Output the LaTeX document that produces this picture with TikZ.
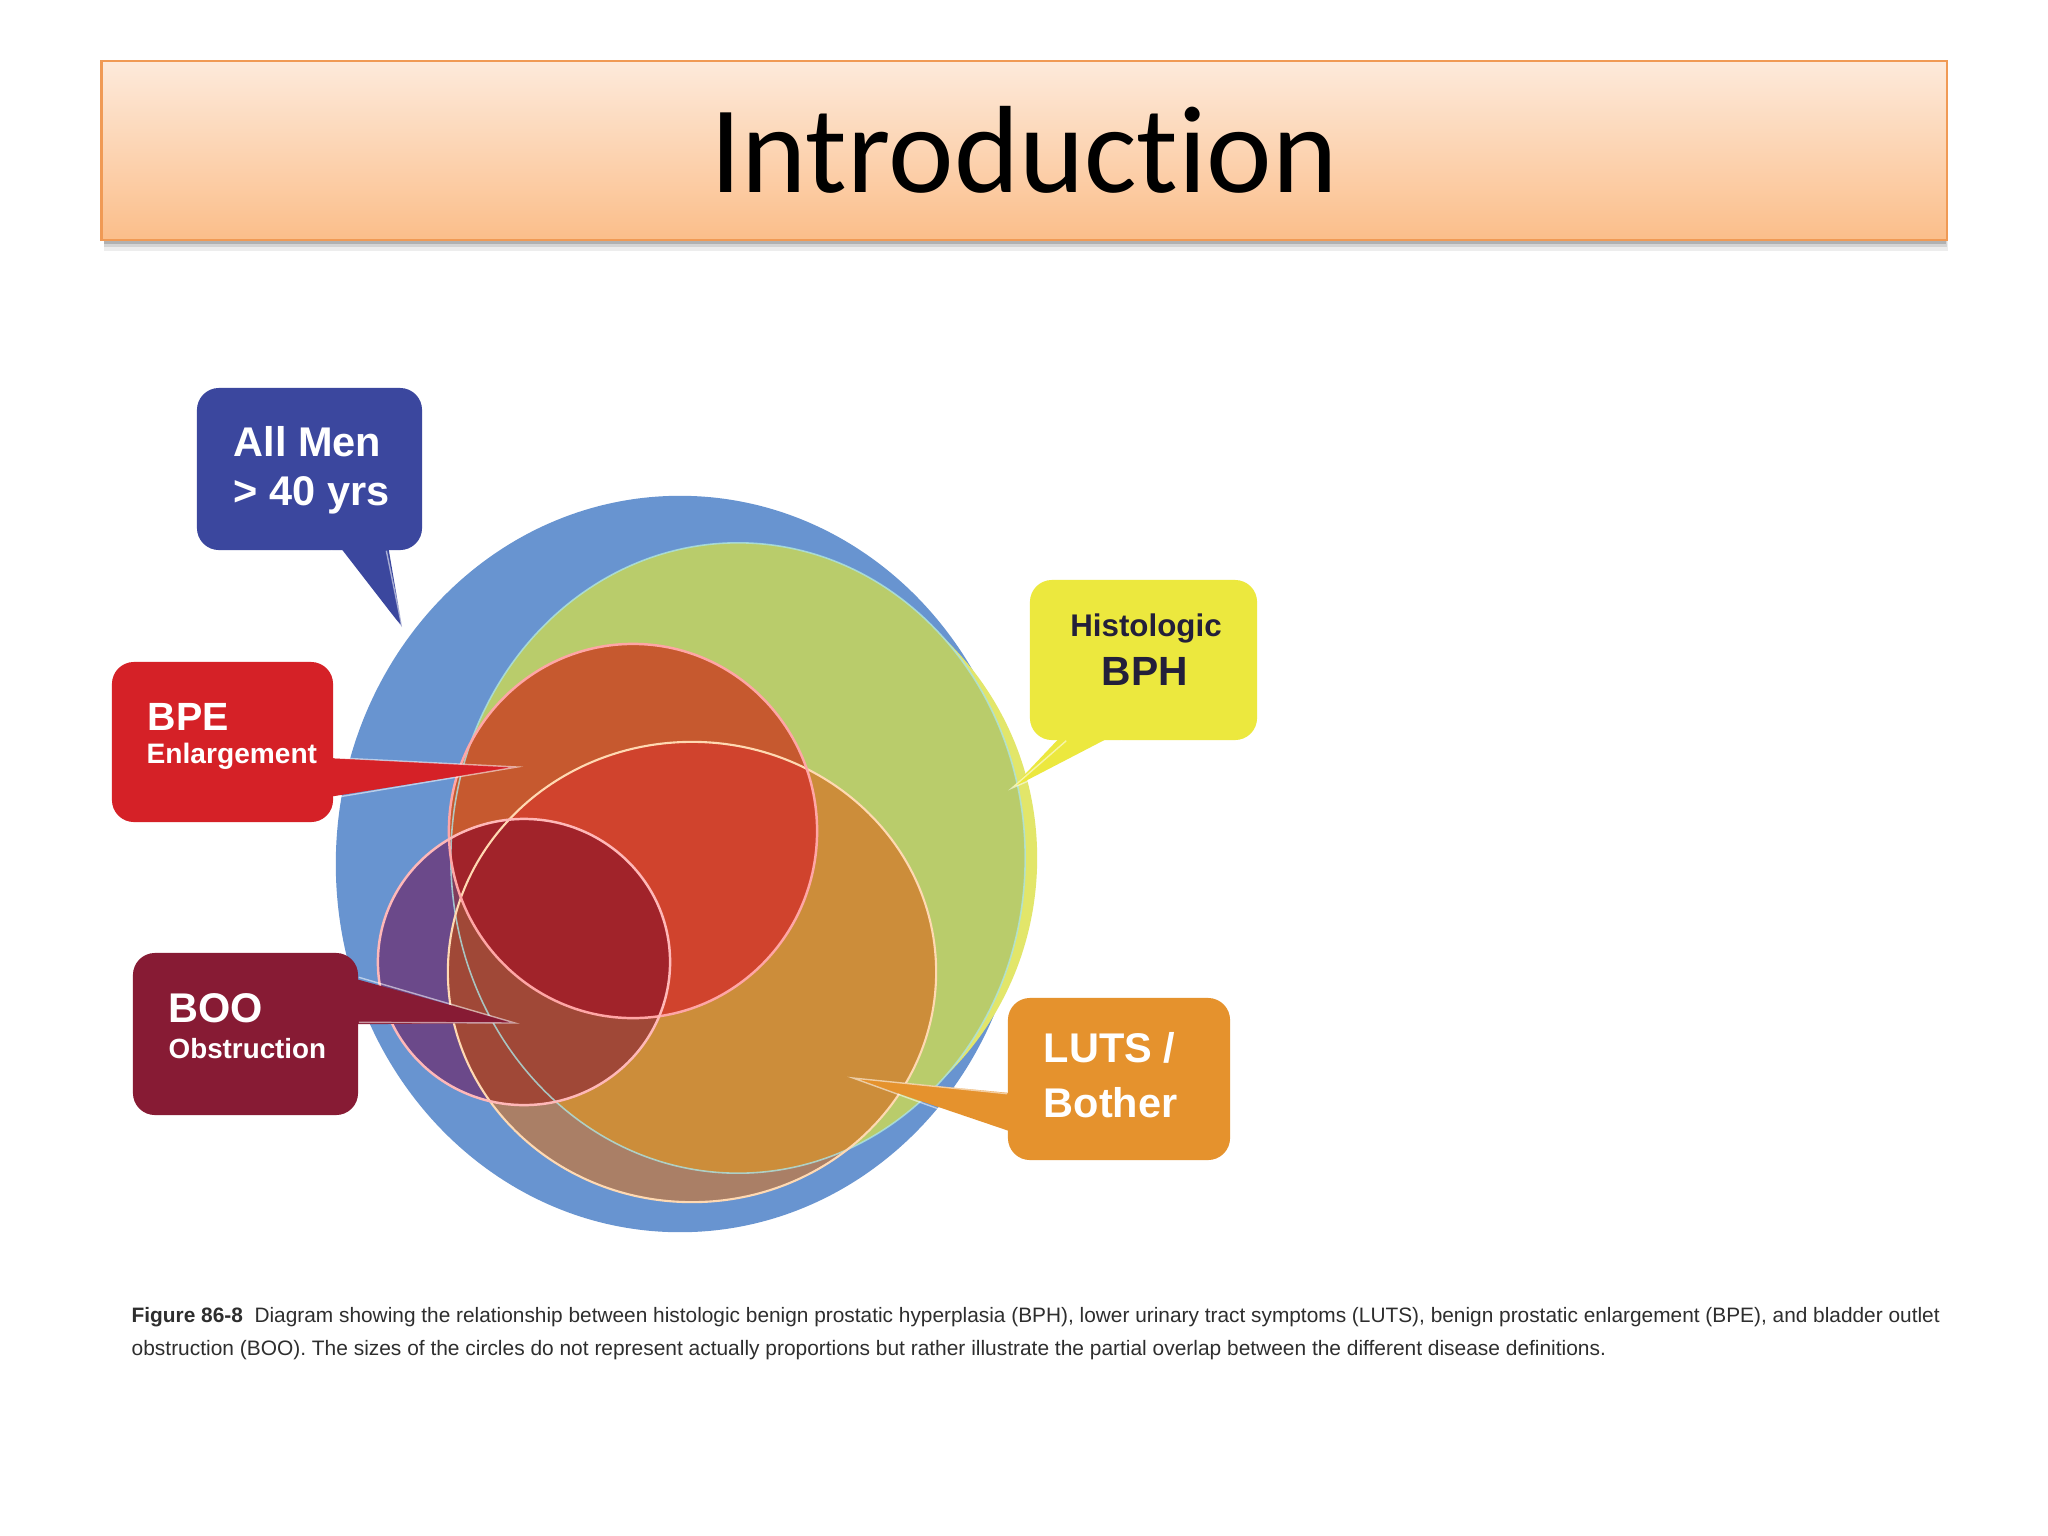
\documentclass[tikz,border=0pt]{standalone}
\usepackage{fontspec}
\setmainfont{Liberation Sans}
\newfontfamily\titlefont[Ligatures=NoCommon]{Carlito}
\definecolor{cBlue}{HTML}{6894D0}
\definecolor{cRim}{HTML}{E2E66A}
\definecolor{cGreen}{HTML}{B9CC6B}
\definecolor{cBPE}{HTML}{C6592F}
\definecolor{cRed}{HTML}{D0432D}
\definecolor{cLutsGreen}{HTML}{CC8D3A}
\definecolor{cLutsBlue}{HTML}{AA7F66}
\definecolor{cBooBlue}{HTML}{6B498A}
\definecolor{cBooGreen}{HTML}{803C5C}
\definecolor{cBooLuts}{HTML}{A04837}
\definecolor{cBooBPE}{HTML}{A1232A}
\definecolor{cNavy}{HTML}{3B479E}
\definecolor{cBoxRed}{HTML}{D52127}
\definecolor{cMaroon}{HTML}{871B34}
\definecolor{cYellow}{HTML}{ECE83E}
\definecolor{cOrange}{HTML}{E5922D}
\definecolor{cDarkText}{HTML}{231F3A}
\definecolor{cCap}{HTML}{2E2E2E}
\definecolor{cTitleTop}{HTML}{FDEADB}
\definecolor{cTitleBot}{HTML}{FBBE8A}
\definecolor{cTitleLine}{HTML}{F09A55}
\newcommand\pthGreen{(738,-858) ellipse [x radius=2.87cm, y radius=3.15cm]}
\newcommand\pthBPE{(633,-831) ellipse [x radius=1.84cm, y radius=1.87cm]}
\newcommand\pthLUTS{(692,-972) ellipse [x radius=2.44cm, y radius=2.30cm]}
\newcommand\pthBOO{(524,-962) ellipse [x radius=1.46cm, y radius=1.43cm]}
\newcommand\bigf{\fontsize{11.8}{14}\selectfont\bfseries}
\newcommand\smallf{\fontsize{8}{10}\selectfont\bfseries}
\begin{document}
\begin{tikzpicture}[x=0.01cm,y=0.01cm,
  callbox/.style={rounded corners=0.22cm, inner sep=0pt, draw=none},
  lbl/.style={anchor=base west, inner sep=0pt, text=white},
  tailedge/.style={draw=white, draw opacity=0.55, line width=0.4pt, line join=miter}]
\fill[white] (0,0) rectangle (2048,-1536);
\useasboundingbox (0,0) rectangle (2048,-1536);
% title
\fill[black, opacity=0.07] (104,-236) rectangle (1948,-251);
\fill[black, opacity=0.10] (104,-236) rectangle (1947,-247);
\fill[black, opacity=0.16] (104,-236) rectangle (1946,-244);
\node[draw=cTitleLine, line width=0.6pt, top color=cTitleTop, bottom color=cTitleBot,
  minimum width=18.44cm, minimum height=1.79cm, inner sep=0pt] (titlebox) at (1024,-150.5) {};
\node[anchor=base, inner sep=0pt] (titletext) at (1024,-192)
  {\titlefont\fontsize{35.3}{40}\selectfont Introduction};
% circles
\fill[cBlue] (680,-864) ellipse [x radius=3.44cm, y radius=3.68cm];
\fill[cRim] (745,-858) ellipse [x radius=2.92cm, y radius=3.00cm];
\fill[cGreen] \pthGreen;
\fill[cBPE] \pthBPE;
\fill[cLutsBlue] \pthLUTS;
\begin{scope}\clip \pthGreen; \fill[cLutsGreen] \pthLUTS; \end{scope}
\begin{scope}\clip \pthBPE; \fill[cRed] \pthLUTS; \end{scope}
\fill[cBooBlue] \pthBOO;
\begin{scope}\clip \pthGreen; \fill[cBooGreen] \pthBOO; \end{scope}
\begin{scope}\clip \pthLUTS; \fill[cBooLuts] \pthBOO; \end{scope}
\begin{scope}\clip \pthBPE; \fill[cBooBPE] \pthBOO; \end{scope}
\draw[draw=white!75!cyan!90!green, line width=0.45pt, draw opacity=0.8] \pthGreen;
\draw[draw=white!70!orange, line width=0.6pt] \pthLUTS;
\draw[draw=white!65!red, line width=0.7pt] \pthBPE;
\draw[draw=white!72!red, line width=0.7pt] \pthBOO;
% tips
\coordinate (amtip) at (402,-627);
\coordinate (bpetip) at (517,-767);
\coordinate (bootip) at (515,-1023);
\coordinate (histtip) at (1012,-788);
\coordinate (lutstip) at (853,-1078);
% boxes
\node[callbox, fill=cNavy, minimum width=2.25cm, minimum height=1.62cm] (allmenbox) at (309.5,-469) {};
\node[callbox, fill=cBoxRed, minimum width=2.21cm, minimum height=1.60cm] (bpebox) at (222.5,-742) {};
\node[callbox, fill=cMaroon, minimum width=2.25cm, minimum height=1.62cm] (boobox) at (245.5,-1034) {};
\node[callbox, fill=cYellow, minimum width=2.27cm, minimum height=1.60cm] (histbox) at (1143.5,-660) {};
\node[callbox, fill=cOrange, minimum width=2.22cm, minimum height=1.62cm] (lutsbox) at (1119,-1079) {};
% tails
\fill[cNavy] ([xshift=1.35cm,yshift=0.15cm]allmenbox.south west) -- (amtip) -- ([xshift=1.90cm,yshift=0.15cm]allmenbox.south west) -- cycle;
\draw[tailedge] ([xshift=1.35cm]allmenbox.south west) -- (amtip) -- ([xshift=1.90cm]allmenbox.south west);
\fill[cBoxRed] ([xshift=-0.1cm,yshift=0.65cm]bpebox.south east) -- (bpetip) -- ([xshift=-0.1cm,yshift=0.25cm]bpebox.south east) -- cycle;
\draw[tailedge] ([yshift=0.65cm]bpebox.south east) -- (bpetip) -- ([yshift=0.25cm]bpebox.south east);
\fill[cMaroon] ([xshift=-0.2cm,yshift=-0.22cm]boobox.north east) -- (bootip) -- ([xshift=-0.1cm,yshift=-0.72cm]boobox.north east) -- cycle;
\draw[tailedge] ([yshift=-0.25cm]boobox.north east) -- (bootip) -- ([yshift=-0.70cm]boobox.north east);
\fill[cYellow] ([xshift=0.37cm,yshift=0.1cm]histbox.south west) -- (histtip) -- ([xshift=0.93cm,yshift=0.1cm]histbox.south west) -- cycle;
\draw[tailedge] ([xshift=0.37cm]histbox.south west) -- (histtip) -- ([xshift=0.93cm]histbox.south west);
\fill[cOrange] ([xshift=0.1cm,yshift=0.67cm]lutsbox.south west) -- (lutstip) -- ([xshift=0.1cm,yshift=0.27cm]lutsbox.south west) -- cycle;
\draw[tailedge] ([yshift=0.67cm]lutsbox.south west) -- (lutstip) -- ([yshift=0.27cm]lutsbox.south west);
% labels
\node[lbl, font=\bigf] (allmen1) at (233,-456) {All Men};
\node[lbl, font=\bigf] (allmen2) at (233,-505) {> 40 yrs};
\node[lbl, font=\fontsize{11.2}{13}\selectfont\bfseries] (bpe1) at (147,-730) {BPE};
\node[lbl, font=\smallf] (bpe2) at (146,-763) {Enlargement};
\node[lbl, font=\bigf] (boo1) at (168,-1022) {BOO};
\node[lbl, font=\fontsize{7.9}{10}\selectfont\bfseries] (boo2) at (168,-1058) {Obstruction};
\node[anchor=base, inner sep=0pt, text=cDarkText, font=\fontsize{8.9}{11}\selectfont\bfseries] (hist1) at (1146,-636) {Histologic};
\node[anchor=base, inner sep=0pt, text=cDarkText, font=\fontsize{11.6}{14}\selectfont\bfseries] (hist2) at (1145,-685) {BPH};
\node[lbl, font=\bigf] (luts1) at (1043,-1062) {LUTS /};
\node[lbl, font=\bigf] (luts2) at (1043,-1117) {Bother};
% caption
\node[anchor=base west, inner sep=0pt, text=cCap, font=\fontsize{5.93}{7}\selectfont] (cap1) at (131,-1322)
  {\textbf{Figure 86-8}\ \ Diagram showing the relationship between histologic benign prostatic hyperplasia (BPH), lower urinary tract symptoms (LUTS), benign prostatic enlargement (BPE), and bladder outlet};
\node[anchor=base west, inner sep=0pt, text=cCap, font=\fontsize{5.95}{7}\selectfont] (cap2) at (131,-1355)
  {obstruction (BOO). The sizes of the circles do not represent actually proportions but rather illustrate the partial overlap between the different disease definitions.};
\end{tikzpicture}
\end{document}
